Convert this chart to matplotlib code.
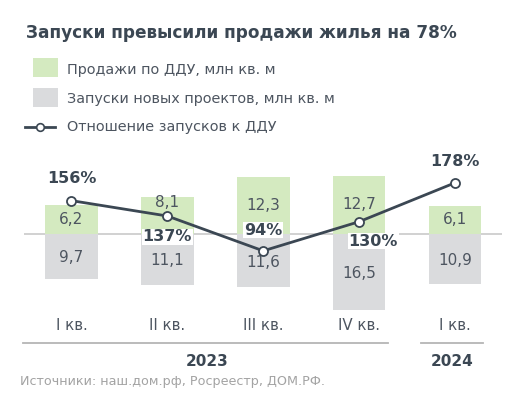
import matplotlib.pyplot as plt
from matplotlib.patches import Rectangle
from matplotlib.lines import Line2D

# данные
quarters = ['I кв.', 'II кв.', 'III кв.', 'IV кв.', 'I кв.']
sales = [6.2, 8.1, 12.3, 12.7, 6.1]          # Продажи по ДДУ
launches = [9.7, 11.1, 11.6, 16.5, 10.9]     # Запуски новых проектов
ratio = [156, 137, 94, 130, 178]             # Отношение запусков к ДДУ, %
years = ['2023', '2024']

plt.rcParams['font.family'] = ['DejaVu Sans']

W, H = 507, 399
fig = plt.figure(figsize=(W / 100, H / 100), dpi=100)


def fx(px):
    return px / W


def fy(py):
    return 1 - py / H


DARK = '#3b4753'
TEXT = '#4d5560'
GREEN = '#d4eac0'
GREY = '#dadbdd'

ax = fig.add_axes([fx(24), fy(320), fx(502) - fx(24), fy(150) - fy(320)])
ax.set_xlim(-0.495, 4.49)
ax.set_ylim(-18.7, 18.26)
ax.axis('off')

x = list(range(len(quarters)))
ax.axhline(0, color='#c9c9c9', lw=1.2, zorder=0)
ax.bar(x, sales, width=0.55, color=GREEN, zorder=1)
ax.bar(x, [-v for v in launches], width=0.55, color=GREY, zorder=1)

# подписи значений
for i in x:
    ys = sales[i] / 2 if i != 1 else sales[i] - 1.3
    ax.text(i, ys, f'{sales[i]:.1f}'.replace('.', ','), ha='center', va='center',
            fontsize=11, color=TEXT, zorder=2)
    ax.text(i, -launches[i] / 2 - 0.3, f'{launches[i]:.1f}'.replace('.', ','),
            ha='center', va='center', fontsize=11, color=TEXT, zorder=2)

ax2 = ax.twinx()
ax2.set_ylim(8.64, 218.5)
ax2.axis('off')
ax2.plot(x, ratio, color=DARK, lw=2, marker='o', markersize=6.5,
         markerfacecolor='white', markeredgecolor=DARK, markeredgewidth=1.3, zorder=3)

offsets = [(0, 16), (0, -15), (0, 15), (10, -14), (0, 15)]
for i in x:
    ax2.annotate(f'{ratio[i]}%', (i, ratio[i]), xytext=offsets[i], textcoords='offset points',
                 ha='center', va='center', fontsize=11.5, fontweight='bold', color=DARK,
                 bbox=dict(boxstyle='square,pad=0.05', fc='white', ec='none'), zorder=4)

# заголовок
fig.text(fx(26), fy(33), 'Запуски превысили продажи жилья на 78%', fontsize=12.2,
         fontweight='bold', color=DARK, ha='left', va='center')

# легенда
fig.add_artist(Rectangle((fx(33), fy(77)), fx(25), fy(58) - fy(77), transform=fig.transFigure,
                         color=GREEN, lw=0))
fig.add_artist(Rectangle((fx(33), fy(107)), fx(25), fy(88) - fy(107), transform=fig.transFigure,
                         color=GREY, lw=0))
fig.add_artist(Line2D([fx(25), fx(55)], [fy(127), fy(127)], transform=fig.transFigure,
                      color=DARK, lw=2))
fig.add_artist(Line2D([fx(40)], [fy(127)], transform=fig.transFigure, marker='o',
                      markersize=5.5, markerfacecolor='white', markeredgecolor=DARK,
                      markeredgewidth=1.2))
legend_labels = ['Продажи по ДДУ, млн кв. м', 'Запуски новых проектов, млн кв. м',
                 'Отношение запусков к ДДУ']
for lab, py in zip(legend_labels, [70, 99, 127]):
    fig.text(fx(67), fy(py), lab, fontsize=10.4, color=TEXT, ha='left', va='center')

# подписи кварталов
for i, q in enumerate(quarters):
    xd = ax.transData.transform((i, 0))[0]
    fig.text(xd / fig.dpi / fig.get_figwidth(), fy(326), q, fontsize=10.8, color=TEXT,
             ha='center', va='center')

fig.add_artist(Line2D([fx(23), fx(388)], [fy(343), fy(343)], transform=fig.transFigure,
                      color='#b5b5b5', lw=1.3))
fig.add_artist(Line2D([fx(421), fx(483)], [fy(343), fy(343)], transform=fig.transFigure,
                      color='#b5b5b5', lw=1.3))
fig.text(fx(207), fy(362), years[0], fontsize=11, fontweight='bold', color=DARK,
         ha='center', va='center')
fig.text(fx(452), fy(362), years[1], fontsize=11, fontweight='bold', color=DARK,
         ha='center', va='center')

fig.text(fx(20), fy(381), 'Источники: наш.дом.рф, Росреестр, ДОМ.РФ.', fontsize=9.2,
         color='#a3a3a3', ha='left', va='center')

fig.savefig('out.png', dpi=100)
